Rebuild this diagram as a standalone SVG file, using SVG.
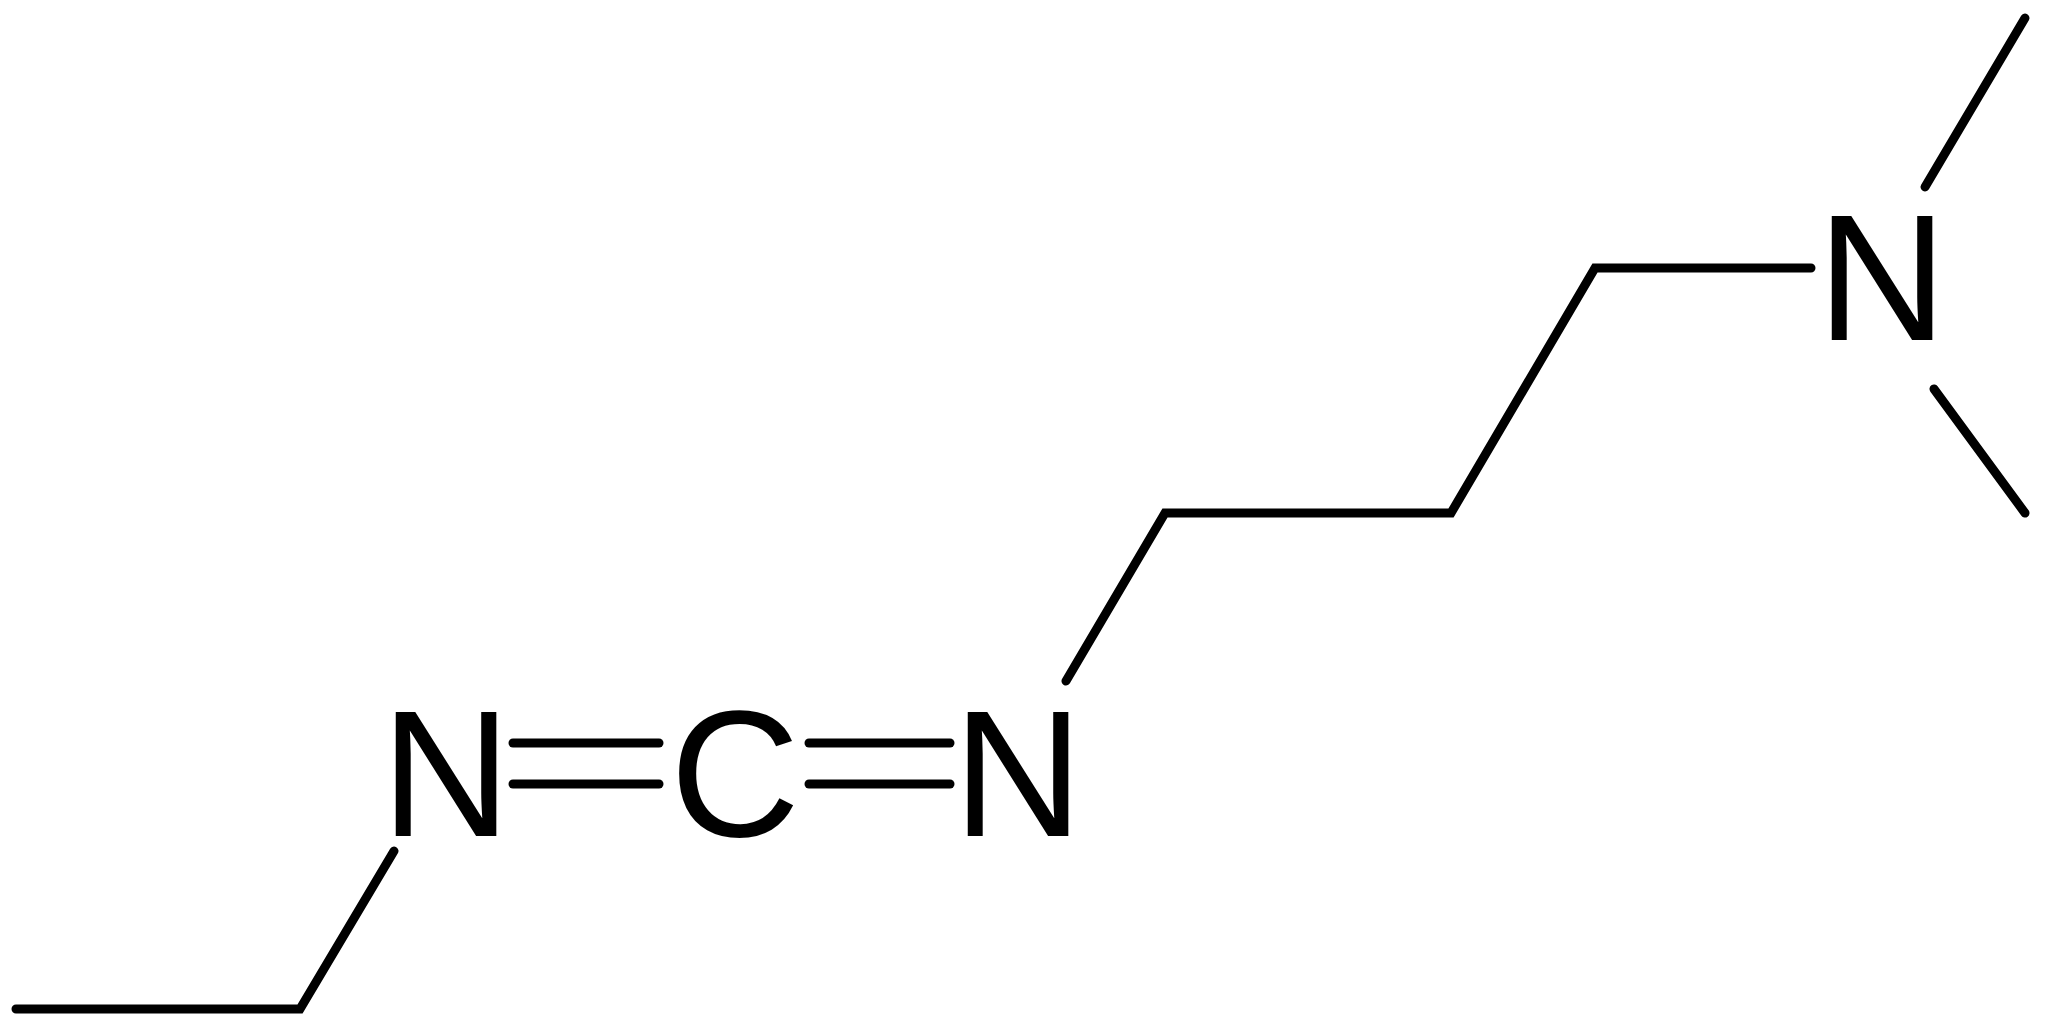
<svg xmlns="http://www.w3.org/2000/svg" width="2046" height="1033" viewBox="0 0 2046 1033">
<style>
.b{stroke:#000;stroke-width:9;stroke-linecap:round;fill:none}
.t{font-family:"Liberation Sans",Arial,sans-serif;font-size:180px;fill:#000;text-anchor:middle}
</style>
<rect width="2046" height="1033" fill="#fff"/>
<g id="connectors">
<polyline class="b" points="16,1009 300,1009 394,851"/>
<line class="b" x1="513" y1="743" x2="659" y2="743"/>
<line class="b" x1="513" y1="784" x2="659" y2="784"/>
<line class="b" x1="809" y1="743" x2="950" y2="743"/>
<line class="b" x1="809" y1="784" x2="950" y2="784"/>
<polyline class="b" points="1066,681 1165,513 1451,513 1595,268 1811,268"/>
<line class="b" x1="1925" y1="187" x2="2025" y2="18"/>
<line class="b" x1="1934" y1="389" x2="2025" y2="513"/>
</g>
<g id="N1"><text class="t" x="446" y="836">N</text></g>
<g id="C"><text class="t" x="735" y="836">C</text></g>
<g id="N2"><text class="t" x="1018" y="836">N</text></g>
<g id="N3"><text class="t" x="1882" y="340">N</text></g>
</svg>
